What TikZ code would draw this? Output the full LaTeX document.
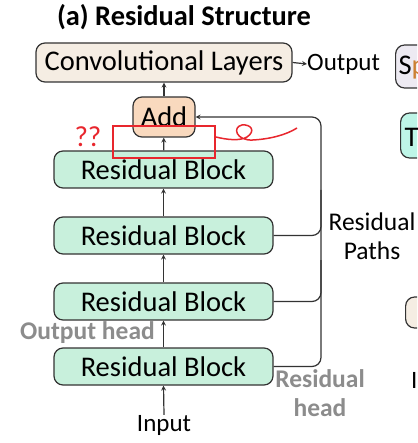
\documentclass[tikz,border=0pt]{standalone}
\usepackage{fontspec}
\setmainfont{Carlito}
\definecolor{convfill}{HTML}{F5EDE3}
\definecolor{addfill}{HTML}{F9D9BE}
\definecolor{blockfill}{HTML}{C8F0DC}
\definecolor{spfill}{HTML}{EDEAF2}
\definecolor{tfill}{HTML}{BEF5E7}
\definecolor{headgray}{HTML}{8C8C8C}
\definecolor{annored}{HTML}{E8262D}
\begin{document}
\begin{tikzpicture}[x=1pt, y=-1pt,
	box/.style={draw=black!80, line width=1.2pt, rounded corners=9pt, inner sep=0pt, font=\fontsize{28.5}{33}\selectfont},
	block/.style={box, fill=blockfill, minimum width=219pt, minimum height=37pt},
	plain/.style={inner sep=0pt, font=\fontsize{25}{29}\selectfont},
	head/.style={inner sep=0pt, align=center, text=headgray, font=\bfseries\fontsize{25.5}{29}\selectfont},
	link/.style={draw=black!80, line width=1.2pt}]
	\useasboundingbox (0,0) rectangle (417,443);
	\clip (0,0) rectangle (417,443);
	
	\node[inner sep=0pt, font=\bfseries\fontsize{28.4}{33}\selectfont] (title) at (184,17) {(a) Residual Structure};
	
	\node[box, fill=convfill, minimum width=256pt, minimum height=39pt] (conv) at (164,62.5) {Convolutional Layers};
	\node[plain, anchor=west] (out) at (307,64) {Output};
	\node[box, fill=addfill, minimum width=62pt, minimum height=40pt] (add) at (164,117) {Add};
	
	\node[block] (rb1) at (163.5,169.5) {Residual Block};
	\node[block] (rb2) at (163.5,235.5) {Residual Block};
	\node[block] (rb3) at (163.5,301.5) {Residual Block};
	\node[block] (rb4) at (163.5,366.5) {Residual Block};
	\node[plain] (in) at (164,425) {Input};
	
	% main stream
	\draw[link, -stealth] (in.north) -- (rb4.south);
	\draw[link, -stealth] (rb4) -- (rb3);
	\draw[link, -stealth] (rb3) -- (rb2);
	\draw[link, -stealth] (rb2) -- (rb1);
	\draw[link, -stealth] (rb1) -- (add);
	\draw[link, -stealth] (add) -- (conv);
	\draw[link, -stealth] (conv.east) -- (out.west);
	
	% residual paths
	\coordinate (rtop) at (321,117);
	\draw[link, rounded corners=9pt, -stealth] (rb4.east) -| (rtop) -- (add.east);
	\draw[link, rounded corners=9pt] (rb3.east) -| (321,260);
	\draw[link, rounded corners=9pt] (rb2.east) -| (321,190);
	
	\node[plain, align=center, font=\fontsize{25.5}{29}\selectfont] (paths) at (372,236) {Residual\\Paths};
	\node[head, anchor=west] (ohead) at (20,333) {Output head};
	\node[head] (rhead) at (320,393) {Residual\\head};
	
	% red notes
	\node[inner sep=0pt, text=annored, font=\fontsize{29}{33}\selectfont] (qq) at (88,137) {??};
	\draw[annored, line width=2pt] (113,126) rectangle (215,158);
	\draw[annored, line width=1.5pt] (216,137) .. controls (228,140) and (240,141) .. (247,137)
		.. controls (256,131) and (251,124) .. (242,125)
		.. controls (232,127) and (236,141) .. (253,140)
		.. controls (270,139) and (286,135) .. (297,128);
	
	% neighbouring panel, cut off
	\node[box, fill=spfill, minimum width=80pt, minimum height=43pt, anchor=west] (sp) at (395,66.5) {};
	\node[box, draw=none, fill=none, anchor=west] (sptxt) at (398,68) {S\textcolor{brown!80!orange}{p}};
	\node[box, fill=tfill, minimum width=80pt, minimum height=45pt, anchor=west] (tb) at (400,135.5) {};
	\node[box, draw=none, fill=none, anchor=west] (ttxt) at (404,137) {T};
	\node[box, fill=convfill, minimum width=80pt, minimum height=31pt, anchor=west] (ib) at (405,312.5) {};
	\node[plain, anchor=west] (itxt) at (411,380) {I};
\end{tikzpicture}
\end{document}
